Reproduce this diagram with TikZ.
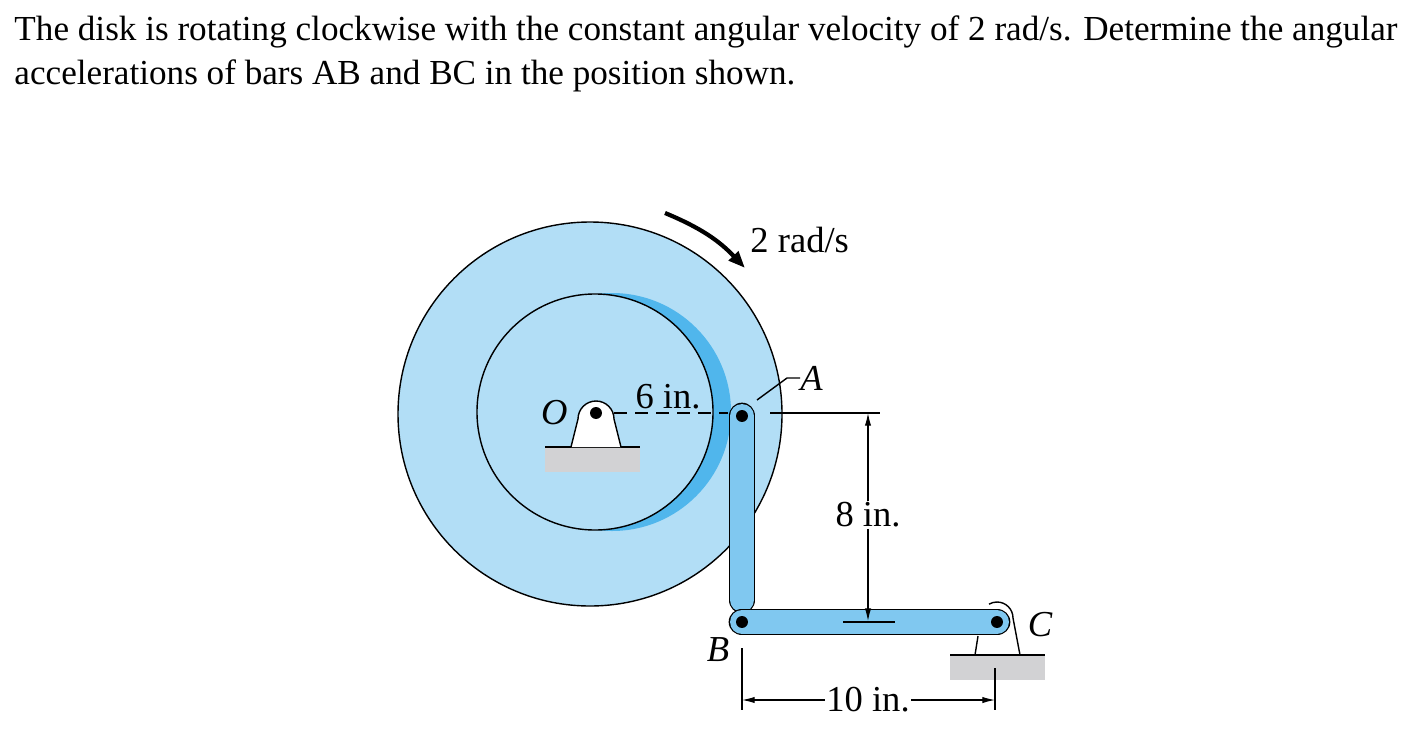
\documentclass[tikz,border=0pt]{standalone}
\usepackage{fontspec}
\setmainfont{Liberation Serif}
\usetikzlibrary{arrows.meta}
\definecolor{disk}{RGB}{178,222,246}
\definecolor{dark}{RGB}{80,182,236}
\definecolor{bar}{RGB}{128,200,240}
\definecolor{gnd}{RGB}{210,210,212}
\tikzset{lbl/.style={font=\fontsize{52}{60}\selectfont},
 ital/.style={font=\fontsize{52}{60}\selectfont\itshape},
 thin/.style={line width=2pt},
 dim/.style={line width=1.6pt},
 dimarr/.style={dim,-{Latex[length=18pt,width=9pt]}},
 pin/.style={circle,fill=black,inner sep=0pt,minimum size=17pt}}
\begin{document}
\begin{tikzpicture}[x=0.05cm,y=-0.05cm]
\useasboundingbox (0,0) rectangle (1422,750);
\node[anchor=base west,font=\fontsize{50}{62}\selectfont] (t1) at (12,40) {The disk is rotating clockwise with the constant angular velocity of 2 rad/s. Determine the angular};
\node[anchor=base west,font=\fontsize{50}{62}\selectfont] (t2) at (12,84) {accelerations of bars AB and BC in the position shown.};
% disk
\draw[fill=disk,thin] (590,414) circle (192);
\fill[dark] (612,412) circle (119);
\fill[disk] (595,412) circle (118);
\draw[thin] (595,412) circle (118);
% rotation arrow
\draw[line width=6pt,-{Triangle[length=24pt,width=18pt]}] (665,213) to[bend left=12] (745,268);
\node[lbl,anchor=base west] (w) at (748,252) {2 rad/s};
% ground O
\fill[gnd] (545,447) rectangle (640,472);
\draw[line width=2.2pt] (545,447) -- (640,447);
\draw[fill=white,thin] (571,447) -- (578,419) arc (180:360:18 and 18) -- (621,447);
\node[pin] (O) at (596,413) {};
\node[ital,anchor=east] (Ol) at (570,413) {O};
\draw[dim,dash pattern=on 18pt off 12pt] (614,413) -- (728,413);
\node[lbl] (s6) at (668,397) {6 in.};
% bars
\draw[line width=38pt,line cap=round] (742,416) -- (742,600);
\draw[line width=34pt,line cap=round,bar] (742,416) -- (742,600);
\draw[line width=38pt,line cap=round] (742,622) -- (997,622);
\draw[line width=34pt,line cap=round,bar] (742,622) -- (997,622);
\node[pin] (A) at (742,416) {};
\node[pin] (B) at (742,622) {};
\node[pin] (C) at (997,622) {};
% C support
\fill[gnd] (950,655) rectangle (1045,680);
\draw[line width=2.2pt] (950,655) -- (1045,655);
\draw[thin] (975,655) -- (978,636);
\draw[thin] (1020,655) -- (1013,618) arc (0:-120:16);
\node[ital] (Cl) at (1040,625) {C};
% A label
\draw[thin] (757,400) -- (787,378) -- (800,378);
\node[ital,anchor=west] (Al) at (798,378) {A};
\draw[dim] (770,413) -- (880,413);
% 8 in
\node[lbl,fill=white,inner sep=2pt] (s8) at (868,515) {8 in.};
\coordinate (d1) at (s8.north |- 0,413);
\coordinate (d2) at (s8.south |- 0,621);
\draw[dimarr] (s8.north) -- (d1);
\draw[dimarr] (s8.south) -- (d2);
\draw[dim] (843,622) -- (895,622);
% 10 in
\node[ital] (Bl) at (718,650) {B};
\draw[dim] (742,648) -- (742,710);
\draw[dim] (995,668) -- (995,710);
\node[lbl,fill=white,inner sep=2pt] (s10) at (868,700) {10 in.};
\coordinate (e1) at (742,700);
\coordinate (e2) at (995,700);
\draw[dimarr] (s10.west) -- (e1);
\draw[dimarr] (s10.east) -- (e2);
\end{tikzpicture}
\end{document}
